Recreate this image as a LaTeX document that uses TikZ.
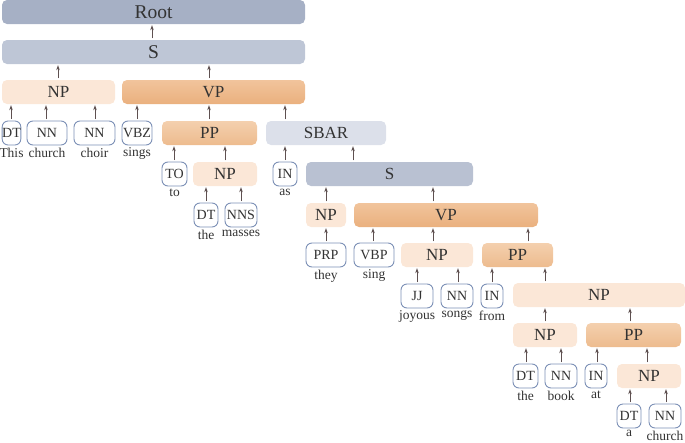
\documentclass[tikz,border=0pt]{standalone}
\usepackage{fontspec}
\setmainfont{Liberation Serif}
\usetikzlibrary{arrows.meta}
\definecolor{rootc}{HTML}{A6B0C5}
\definecolor{sc}{HTML}{BEC6D6}
\definecolor{s2c}{HTML}{B9C1D2}
\definecolor{sbarc}{HTML}{DCE0EA}
\definecolor{npc}{HTML}{FBE7D7}
\definecolor{vptop}{HTML}{F1C49C}
\definecolor{vpbot}{HTML}{EAB07E}
\definecolor{pptop}{HTML}{F4D0AE}
\definecolor{ppbot}{HTML}{EDBB8E}
\definecolor{leafb}{HTML}{7C90B6}
\definecolor{txt}{HTML}{333333}
\definecolor{arrc}{HTML}{5E5050}
\newcommand\bx[7]{\node[#1, minimum width={#4-#3}, minimum height={#6-#5}] (#2) at ({(#3+#4)/2},{(#5+#6)/2}) {#7};}
\newcommand\lf[6]{\node[leaf, minimum width={#3-#2}] (#1) at ({(#2+#3)/2},{#4+12}) {#5};
 \node[word, anchor=north] (#1w) at ([yshift=-2pt]#1.south) {#6};}
\newcommand\ar[3]{\coordinate (tmp) at (#3,0); \draw[arr] (#1.north -| tmp) -- (#2.south -| tmp);}
\begin{document}
\begin{tikzpicture}[x=1pt,y=-1pt,
  phr/.style={rounded corners=5pt, inner sep=0pt, text=txt, font=\fontsize{17}{17}\selectfont},
  big/.style={phr, font=\fontsize{19.5}{19.5}\selectfont},
  np/.style={phr, fill=npc},
  vp/.style={phr, top color=vptop, bottom color=vpbot},
  pp/.style={phr, top color=pptop, bottom color=ppbot},
  leaf/.style={draw=leafb, line width=0.9pt, fill=white, rounded corners=6pt, inner sep=0pt,
    minimum height=24pt, text=txt, font=\fontsize{14}{14}\selectfont},
  word/.style={inner sep=0pt, text=txt, font=\fontsize{13.5}{13.5}\selectfont},
  arr/.style={draw=arrc, line width=0.8pt, -{Stealth[length=5pt,width=3.6pt]}, shorten <=1.5pt, shorten >=1pt}]
\useasboundingbox (0,0) rectangle (685,442);
% phrase boxes
\bx{big, fill=rootc}{root}{2}{305}{0}{24}{Root}
\bx{big, fill=sc}{s1}{2}{305}{40}{64}{S}
\bx{np}{np1}{2}{115}{80}{104}{NP}
\bx{vp}{vp1}{122}{305}{80}{104}{VP}
\bx{pp}{pp1}{162}{257}{121}{145}{PP}
\bx{phr, fill=sbarc}{sbar}{266}{386}{121}{145}{SBAR}
\bx{np}{np2}{193}{257}{162}{186}{NP}
\bx{phr, fill=s2c}{s2}{306}{473}{162}{186}{S}
\bx{np}{np3}{306}{346}{203}{227}{NP}
\bx{vp}{vp2}{354}{538}{203}{227}{VP}
\bx{np}{np4}{401}{473}{243}{267}{NP}
\bx{pp}{pp2}{482}{553}{243}{267}{PP}
\bx{np}{np5}{513}{685}{283}{307}{NP}
\bx{np}{np6}{513}{577}{323}{347}{NP}
\bx{pp}{pp3}{586}{681}{323}{347}{PP}
\bx{np}{np7}{617}{681}{364}{388}{NP}
% leaves
\lf{dt1}{3}{20}{121}{DT}{This}
\lf{nn1}{27}{67}{121}{NN}{church}
\lf{nn2}{74}{115}{121}{NN}{choir}
\lf{vbz}{122}{152}{121}{VBZ}{sings}
\lf{to}{162}{187}{162}{TO}{to}
\lf{in1}{273}{297}{162}{IN}{as}
\lf{dt2}{194}{218}{203}{DT}{the}
\lf{nns}{225}{257}{203}{NNS}{masses}
\lf{prp}{306}{346}{243}{PRP}{they}
\lf{vbp}{354}{394}{243}{VBP}{sing}
\lf{jj}{401}{433}{284}{JJ}{joyous}
\lf{nn3}{441}{473}{284}{NN}{songs}
\lf{in2}{481}{503}{284}{IN}{from}
\lf{dt3}{513}{538}{364}{DT}{the}
\lf{nn4}{545}{577}{364}{NN}{book}
\lf{in3}{585}{607}{364}{IN}{at}
\lf{dt4}{617}{641}{404}{DT}{a}
\lf{nn5}{649}{681}{404}{NN}{church}
% arrows
\ar{s1}{root}{152}
\ar{np1}{s1}{58}
\ar{vp1}{s1}{209}
\ar{dt1}{np1}{11}
\ar{nn1}{np1}{46}
\ar{nn2}{np1}{95}
\ar{vbz}{vp1}{137}
\ar{pp1}{vp1}{209}
\ar{sbar}{vp1}{285}
\ar{to}{pp1}{174}
\ar{np2}{pp1}{225}
\ar{in1}{sbar}{285}
\ar{s2}{sbar}{353}
\ar{dt2}{np2}{206}
\ar{nns}{np2}{241}
\ar{np3}{s2}{326}
\ar{vp2}{s2}{433}
\ar{prp}{np3}{326}
\ar{vbp}{vp2}{373}
\ar{np4}{vp2}{433}
\ar{pp2}{vp2}{528}
\ar{jj}{np4}{417}
\ar{nn3}{np4}{458}
\ar{in2}{pp2}{492}
\ar{np5}{pp2}{545}
\ar{np6}{np5}{545}
\ar{pp3}{np5}{630}
\ar{dt3}{np6}{526}
\ar{nn4}{np6}{561}
\ar{in3}{pp3}{597}
\ar{np7}{pp3}{647}
\ar{dt4}{np7}{630}
\ar{nn5}{np7}{666}
\end{tikzpicture}
\end{document}
